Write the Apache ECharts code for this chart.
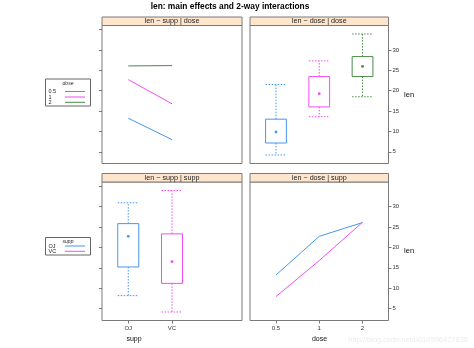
<!DOCTYPE html>
<html><head><meta charset="utf-8">
<script src="https://cdn.jsdelivr.net/npm/echarts@6/dist/echarts.min.js"></script>
<style>html,body{margin:0;padding:0;background:#fff}#chart{width:474px;height:348px}</style>
</head><body><div id="chart"></div>
<script>
// ToothGrowth: tooth length by supplement type and dose
const doseLevels = ['0.5', '1', '2'];
const suppLevels = ['OJ', 'VC'];
const meanOJ = [13.23, 22.70, 26.06];   // mean len for OJ at each dose
const meanVC = [7.98, 16.77, 26.14];    // mean len for VC at each dose
// five-number summaries: min, lower hinge, median, upper hinge, max
const boxByDose = [
  [4.2, 7.15, 9.85, 13.0, 21.5],
  [13.6, 16.0, 19.25, 23.45, 27.3],
  [18.5, 23.45, 25.95, 28.35, 33.9]
];
const boxBySupp = [
  [8.2, 15.2, 22.7, 25.8, 30.9],
  [4.2, 11.2, 16.5, 23.3, 33.9]
];
const lenTicksLeft = [5, 10, 15, 20, 25, 30, 35];
const lenTicksRight = [5, 10, 15, 20, 25, 30];
const stripTitles = ['len ~ supp | dose', 'len ~ dose | dose', 'len ~ supp | supp', 'len ~ dose | supp'];
const mainTitle = 'len: main effects and 2-way interactions';

const doseColors = ['#4497ee', '#f04ef0', '#4a8a4a'];
const suppColors = ['#4497ee', '#f04ef0'];
const FONT = 'Liberation Sans, Arial, sans-serif';
const FRAME = '#7a7a7a';
const TEXT = '#333';

// y range: data range padded 7% on each side
const allVals = boxByDose.flat().concat(boxBySupp.flat());
const lo = Math.min(...allVals), hi = Math.max(...allVals);
const pad = 0.07 * (hi - lo);
const yMin = lo - pad, yMax = hi + pad;
const xMin = 0.4, xMax = 3.6;

const GRIDS = [
  { left: 102, top: 25.5, width: 140, height: 138 },
  { left: 250, top: 25.5, width: 138.5, height: 138 },
  { left: 102, top: 182, width: 140, height: 138.5 },
  { left: 250, top: 182, width: 138.5, height: 138.5 }
];
const STRIP_H = 8.5;

const chart = echarts.init(document.getElementById('chart'), null, { renderer: 'canvas' });

function xAxisFor(i) {
  const bottom = i >= 2;
  const labels = (i === 2) ? suppLevels : doseLevels;
  const vals = labels.map((_, k) => k + 1);
  return {
    type: 'value', gridIndex: i, min: xMin, max: xMax,
    axisLine: { show: false },
    splitLine: { show: false },
    axisTick: { show: bottom, customValues: vals, length: 3, lineStyle: { color: FRAME } },
    axisLabel: {
      show: bottom, customValues: vals, margin: 5, fontSize: 6, color: TEXT, fontFamily: FONT,
      formatter: v => labels[Math.round(v) - 1]
    }
  };
}
function yAxisFor(i) {
  const right = (i % 2 === 1);
  const ticks = right ? lenTicksRight : lenTicksLeft;
  return {
    type: 'value', gridIndex: i, min: yMin, max: yMax,
    position: right ? 'right' : 'left',
    axisLine: { show: false },
    splitLine: { show: false },
    axisTick: { show: true, customValues: ticks, length: 3, lineStyle: { color: FRAME } },
    axisLabel: { show: right, customValues: ticks, margin: 4, fontSize: 6, color: TEXT, fontFamily: FONT },
    name: right ? 'len' : '',
    nameLocation: 'middle', nameRotate: 0, nameGap: 15,
    nameTextStyle: { fontSize: 7.5, color: '#111', fontFamily: FONT, align: 'left', padding: [6, 0, 0, 0] }
  };
}

function boxRenderer(colors) {
  return function (params, api) {
    const x = api.value(0);
    const c = [1, 2, 3, 4, 5].map(k => api.coord([x, api.value(k)]));
    const hw = api.size([0.48, 0])[0] / 2;
    const cx = c[0][0];
    const col = colors[params.dataIndex];
    const dash = { stroke: col, lineWidth: 1, lineDash: [1.5, 1.5] };
    return {
      type: 'group',
      children: [
        { type: 'line', shape: { x1: cx, y1: c[3][1], x2: cx, y2: c[4][1] }, style: dash },
        { type: 'line', shape: { x1: cx, y1: c[1][1], x2: cx, y2: c[0][1] }, style: dash },
        { type: 'line', shape: { x1: cx - hw, y1: c[4][1], x2: cx + hw, y2: c[4][1] }, style: dash },
        { type: 'line', shape: { x1: cx - hw, y1: c[0][1], x2: cx + hw, y2: c[0][1] }, style: dash },
        { type: 'rect', shape: { x: cx - hw, y: c[3][1], width: 2 * hw, height: c[1][1] - c[3][1] },
          style: { fill: 'none', stroke: col, lineWidth: 1 } },
        { type: 'circle', shape: { cx: cx, cy: c[2][1], r: 1.4 }, style: { fill: col } }
      ]
    };
  };
}

const series = [];
// panel 1: dose-wise lines across supplements
doseLevels.forEach((d, k) => {
  series.push({
    type: 'line', xAxisIndex: 0, yAxisIndex: 0, symbol: 'none', silent: true,
    lineStyle: { color: doseColors[k], width: 1 },
    data: [[1, meanOJ[k]], [2, meanVC[k]]]
  });
});
// panel 2: boxes by dose
series.push({
  type: 'custom', xAxisIndex: 1, yAxisIndex: 1, silent: true,
  renderItem: boxRenderer(doseColors),
  data: boxByDose.map((b, k) => [k + 1].concat(b))
});
// panel 3: boxes by supplement
series.push({
  type: 'custom', xAxisIndex: 2, yAxisIndex: 2, silent: true,
  renderItem: boxRenderer(suppColors),
  data: boxBySupp.map((b, k) => [k + 1].concat(b))
});
// panel 4: supplement-wise lines across doses
[meanOJ, meanVC].forEach((m, k) => {
  series.push({
    type: 'line', xAxisIndex: 3, yAxisIndex: 3, symbol: 'none', silent: true,
    lineStyle: { color: suppColors[k], width: 1 },
    data: m.map((v, j) => [j + 1, v])
  });
});

const graphic = [];
// strips above each panel
GRIDS.forEach((g, i) => {
  graphic.push({
    type: 'rect', silent: true,
    shape: { x: g.left, y: g.top - STRIP_H, width: g.width, height: STRIP_H },
    style: { fill: '#ffe5cc', stroke: FRAME, lineWidth: 1 }
  });
  graphic.push({
    type: 'text', silent: true, x: g.left + g.width / 2, y: g.top - STRIP_H / 2,
    style: { text: stripTitles[i], fontSize: 7.2, fontFamily: FONT, fill: '#222',
      align: 'center', verticalAlign: 'middle' }
  });
});
// title
graphic.push({
  type: 'text', silent: true, x: 230, y: 7,
  style: { text: mainTitle, fontSize: 8.4, fontWeight: 'bold', fontFamily: FONT, fill: '#000',
    align: 'center', verticalAlign: 'middle' }
});
// x-axis titles
graphic.push({ type: 'text', silent: true, x: 134, y: 339,
  style: { text: 'supp', fontSize: 7, fontFamily: FONT, fill: '#111', align: 'center', verticalAlign: 'middle' } });
graphic.push({ type: 'text', silent: true, x: 319.5, y: 339,
  style: { text: 'dose', fontSize: 7, fontFamily: FONT, fill: '#111', align: 'center', verticalAlign: 'middle' } });

// key boxes
function addKey(top, bottom, title, labels, colors, rows) {
  graphic.push({ type: 'rect', silent: true,
    shape: { x: 45.5, y: top, width: 45, height: bottom - top },
    style: { fill: '#fff', stroke: '#666', lineWidth: 1 } });
  graphic.push({ type: 'text', silent: true, x: 68, y: top + 4.5,
    style: { text: title, fontSize: 5, fontStyle: 'italic', fontFamily: FONT, fill: '#222',
      align: 'center', verticalAlign: 'middle' } });
  labels.forEach((lab, k) => {
    graphic.push({ type: 'text', silent: true, x: 48.5, y: rows[k],
      style: { text: lab, fontSize: 5.5, fontFamily: FONT, fill: '#222', align: 'left', verticalAlign: 'middle' } });
    graphic.push({ type: 'line', silent: true,
      shape: { x1: 65, y1: rows[k], x2: 85, y2: rows[k] },
      style: { stroke: colors[k], lineWidth: 1 } });
  });
}
addKey(79, 106, 'dose', doseLevels, doseColors, [91.5, 97, 102.3]);
addKey(237.5, 255, 'supp', suppLevels, suppColors, [246, 251.3]);

// faint footer credit
graphic.push({ type: 'text', silent: true, x: 468, y: 339.5,
  style: { text: 'http://blog.csdn.net/u010596427835', fontSize: 7.5, fontFamily: FONT, fill: '#ececec',
    align: 'right', verticalAlign: 'middle' } });

chart.setOption({
  animation: false,
  backgroundColor: '#fff',
  grid: GRIDS.map(g => Object.assign({ show: true, borderColor: FRAME, borderWidth: 1,
    backgroundColor: 'transparent', containLabel: false }, g)),
  xAxis: GRIDS.map((_, i) => xAxisFor(i)),
  yAxis: GRIDS.map((_, i) => yAxisFor(i)),
  series: series,
  graphic: graphic
});
</script>
</body></html>
